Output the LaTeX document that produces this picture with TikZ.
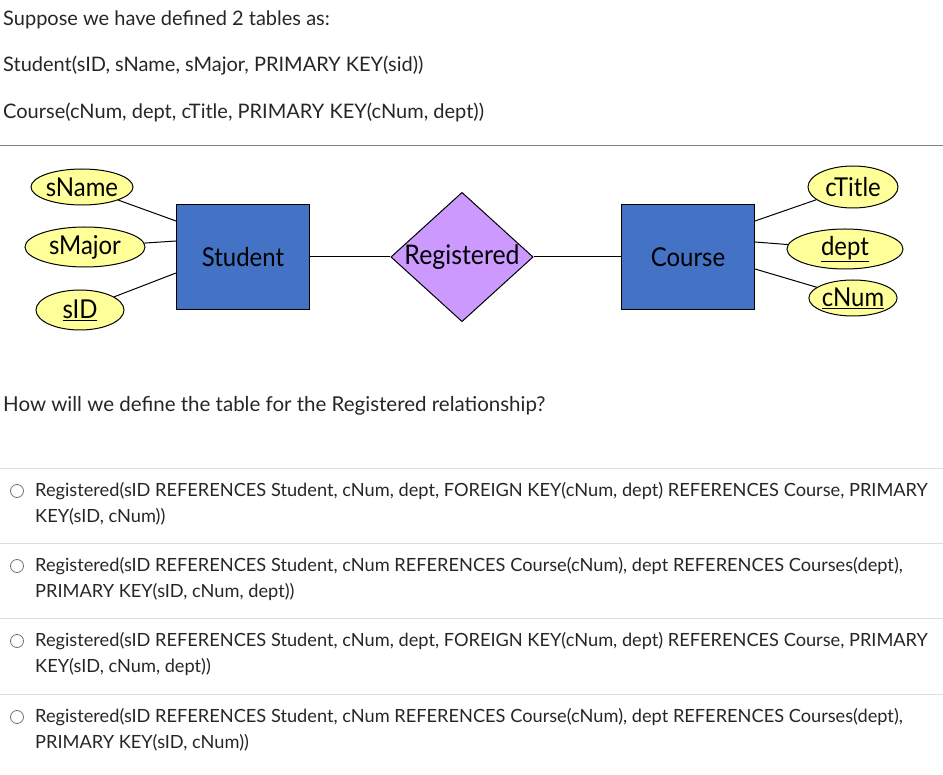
\documentclass[tikz,border=0pt]{standalone}
\usepackage{fontspec}
\setmainfont{Lato}
\usetikzlibrary{shapes.geometric}
\definecolor{entblue}{HTML}{4472C4}
\definecolor{attryel}{HTML}{FFFF99}
\definecolor{relpurp}{HTML}{CC99FF}
\definecolor{rulegray}{HTML}{DDDDDD}
\begin{document}
\begin{tikzpicture}[
	x=1pt,y=-1pt,
	txt/.style={anchor=west,inner sep=0pt,font=\fontsize{20}{24}\selectfont,text=black!85},
	opt/.style={txt,font=\fontsize{18.2}{22}\selectfont},
	entity/.style={draw,line width=1pt,fill=entblue,minimum width=133pt,minimum height=105pt,
		font=\fontsize{26}{28}\selectfont,inner sep=0pt},
	rel/.style={diamond,draw,line width=1pt,fill=relpurp,minimum width=140pt,minimum height=126pt,
		aspect=1.1,inner sep=0pt,font=\fontsize{27}{28}\selectfont},
	attr/.style={ellipse,draw,line width=1pt,fill=attryel,inner sep=0pt,font=\fontsize{26}{28}\selectfont},
	link/.style={draw,line width=1pt},
	radio/.style={circle,draw=black!55,thick,minimum size=13pt,inner sep=0pt},
	sep/.style={draw=rulegray},
]
\useasboundingbox (0,0) rectangle (943,775);

% question text
\node[txt] (q1) at (3,20) {Suppose we have defined 2 tables as:};
\node[txt] (q2) at (3,66) {Student(sID, sName, sMajor, PRIMARY KEY(sid))};
\node[txt] (q3) at (3,112) {Course(cNum, dept, cTitle, PRIMARY KEY(cNum, dept))};
\coordinate (r0) at (0,145);
\coordinate (r1) at (943,145);
\draw[black!50] (r0) -- (r1);

% ER diagram
\node[entity] (stu) at (243,257) {\scalebox{0.92}[1]{Student}};
\node[rel] (reg) at (462,257) {\scalebox{0.92}[1]{Registered}};
\node[entity] (crs) at (688,257) {\scalebox{0.92}[1]{Course}};

\node[attr,minimum width=86pt,minimum height=36pt] (sname) at (82,187) {\scalebox{0.92}[1]{sName}};
\node[attr,minimum width=120pt,minimum height=40pt] (smajor) at (85,247) {\scalebox{0.92}[1]{sMajor}};
\node[attr,minimum width=88pt,minimum height=40pt] (sid) at (80,310) {\underline{\scalebox{0.92}[1]{sID}}};
\node[attr,minimum width=90pt,minimum height=42pt] (ctitle) at (853,187) {\scalebox{0.92}[1]{cTitle}};
\node[attr,minimum width=116pt,minimum height=40pt] (dept) at (845,249) {\underline{\scalebox{0.92}[1]{dept}}};
\node[attr,minimum width=84pt,minimum height=36pt] (cnum) at (853,298) {\underline{\scalebox{0.92}[1]{cNum}}};

\draw[link] (sname) -- ([yshift=-17pt]stu.north west);
\draw[link] (smajor) -- ([yshift=-37pt]stu.north west);
\draw[link] (sid) -- ([yshift=-69pt]stu.north west);
\draw[link] (ctitle) -- ([yshift=-17pt]crs.north east);
\draw[link] (dept) -- ([yshift=-38pt]crs.north east);
\draw[link] (cnum) -- ([yshift=-65pt]crs.north east);
\draw[link] (stu) -- (reg) -- (crs);

\node[txt,font=\fontsize{20.5}{24}\selectfont] (q4) at (3,406) {How will we define the table for the Registered relationship?};

% answer options
\foreach \y/\la/\lb [count=\i] in {
	491/{Registered(sID REFERENCES Student, cNum, dept, FOREIGN KEY(cNum, dept) REFERENCES Course, PRIMARY}/{KEY(sID, cNum))},
	566/{Registered(sID REFERENCES Student, cNum REFERENCES Course(cNum), dept REFERENCES Courses(dept),}/{PRIMARY KEY(sID, cNum, dept))},
	641/{Registered(sID REFERENCES Student, cNum, dept, FOREIGN KEY(cNum, dept) REFERENCES Course, PRIMARY}/{KEY(sID, cNum, dept))},
	717/{Registered(sID REFERENCES Student, cNum REFERENCES Course(cNum), dept REFERENCES Courses(dept),}/{PRIMARY KEY(sID, cNum))}}
{
	\coordinate (sa\i) at (0,\y-23);
	\coordinate (sb\i) at (943,\y-23);
	\draw[sep] (sa\i) -- (sb\i);
	\node[radio] (rb\i) at (17,\y) {};
	\node[opt] (oa\i) at (35,\y) {\la};
	\node[opt] (ob\i) at (35,\y+26) {\lb};
}
\end{tikzpicture}
\end{document}
